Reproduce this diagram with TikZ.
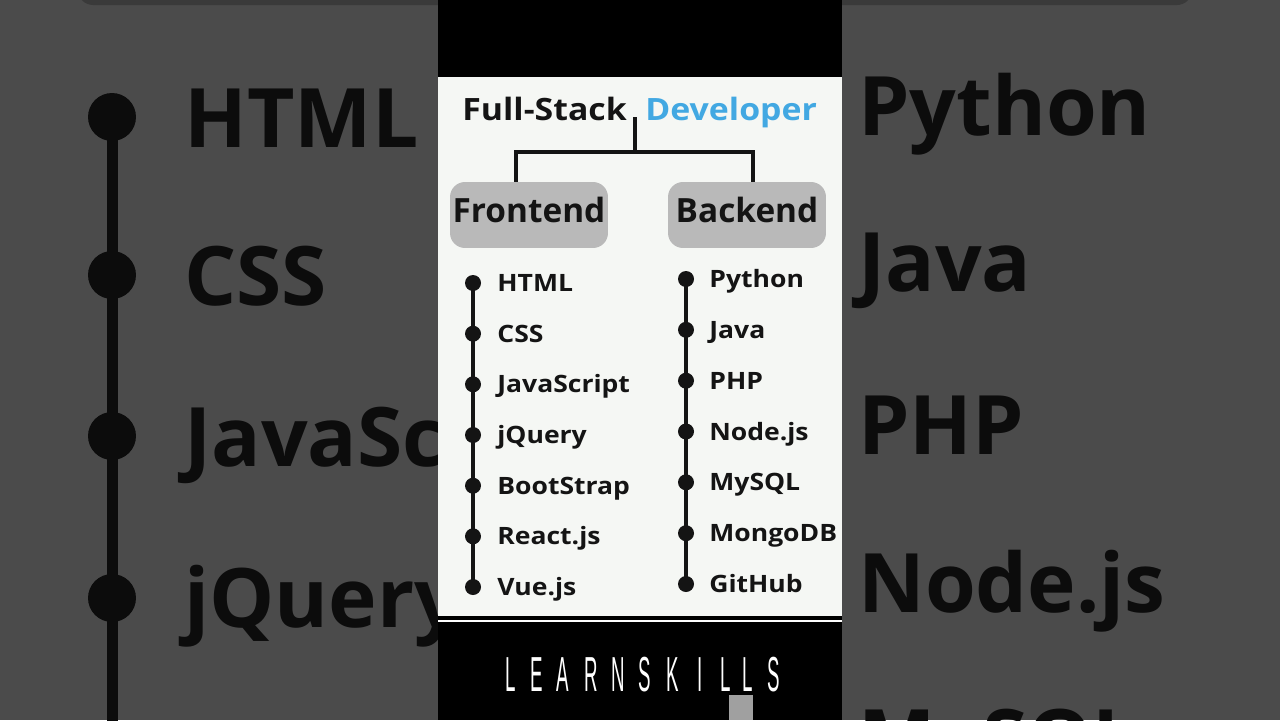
\documentclass[tikz,border=0pt]{standalone}
\usepackage{fontspec}
\setmainfont{Open Sans}
\newfontfamily\brandfont{Liberation Sans}
\usetikzlibrary{positioning}
\definecolor{bggray}{RGB}{75,75,75}
\definecolor{stripgray}{RGB}{58,58,58}
\definecolor{bgink}{RGB}{12,12,12}
\definecolor{ink}{RGB}{20,20,20}
\definecolor{paper}{RGB}{245,247,244}
\definecolor{tagfill}{RGB}{185,185,185}
\definecolor{devblue}{RGB}{66,168,226}
\definecolor{smudge}{RGB}{160,160,160}

\begin{document}
\begin{tikzpicture}[x=0.02cm,y=-0.02cm,
    entry/.style={anchor=base west,inner sep=0pt,text=ink,xscale=1.11,font=\fontsize{13.6}{16}\selectfont\bfseries},
    bul/.style={circle,fill=ink,inner sep=0pt,minimum size=0.32cm},
    rail/.style={draw=ink,line width=0.08cm},
    branch/.style={draw=ink,line width=0.08cm},
    title/.style={anchor=base west,inner sep=0pt,text=ink,xscale=1.1,font=\fontsize{17.5}{20}\selectfont\bfseries},
    tag/.style={rounded corners=0.3cm,fill=tagfill,minimum width=3.16cm,minimum height=1.32cm,inner sep=0pt,
        text=ink,text height=0.5cm,text depth=0.22cm,font=\fontsize{19}{22}\selectfont\bfseries},
    bigentry/.style={anchor=base west,inner sep=0pt,text=bgink,font=\fontsize{46.7}{50}\selectfont\bfseries},
    bigbul/.style={circle,fill=bgink,inner sep=0pt,minimum size=0.96cm},
    bigrail/.style={draw=bgink,line width=0.22cm},
    brand/.style={anchor=base,inner sep=0pt,text=white,xscale=0.38,font=\brandfont\fontsize{28}{32}\selectfont}]
    \useasboundingbox (0,0) rectangle (1280,720);
    \clip (0,0) rectangle (1280,720);

    % blurred background
    \fill[bggray] (0,0) rectangle (1280,720);
    \fill[stripgray,rounded corners=0.3cm] (78,-30) rectangle (1192,5);

    \node[bigbul] (LD1) at (112,117) {};
    \node[bigbul] (LD2) at (112,275) {};
    \node[bigbul] (LD3) at (112,436) {};
    \node[bigbul] (LD4) at (112,598) {};
    \coordinate (LD5) at (112,740);
    \draw[bigrail] (LD1.center) -- (LD5);
    \node[bigentry] (L1) at (184,147) {HTML};
    \node[bigentry] (L2) at (184,305) {CSS};
    \node[bigentry] (L3) at (184,466) {JavaSc};
    \node[bigentry] (L4) at (184,627) {jQuery};

    \node[bigentry] (R1) at (858,135) {Python};
    \node[bigentry] (R2) at (858,291) {Java};
    \node[bigentry] (R3) at (858,454) {PHP};
    \node[bigentry] (R4) at (858,612) {Node.js};
    \node[bigentry] (R5) at (858,768) {MySQL};

    % panel
    \fill[black] (438,0) rectangle (842,720);
    \fill[paper] (438,77) rectangle (842,616);
    \fill[white] (438,620) rectangle (842,622);

    \node[title] (T1) at (462,120) {Full-Stack};
    \node[title,text=devblue] (T2) at (645,120) {Developer};
    \coordinate (T0) at (635,117);
    \coordinate (TJ) at (635,152);
    \coordinate (FJ) at (516,186);
    \coordinate (BJ) at (753,186);
    \draw[branch] (T0) -- (TJ);
    \draw[branch] (FJ) |- (TJ) -| (BJ);

    \node[tag] (F) at (529,215) {Frontend};
    \node[tag] (B) at (747,215) {Backend};

    \node[bul] (FD1) at (473,283) {};
    \node[bul] (FD2) at (473,333.7) {};
    \node[bul] (FD3) at (473,384.3) {};
    \node[bul] (FD4) at (473,435) {};
    \node[bul] (FD5) at (473,485.7) {};
    \node[bul] (FD6) at (473,536.3) {};
    \node[bul] (FD7) at (473,587) {};
    \draw[rail] (FD1.center) -- (FD7.center);
    \node[entry] (F1) at (497,291.5) {HTML};
    \node[entry] (F2) at (497,342.2) {CSS};
    \node[entry] (F3) at (497,392.8) {JavaScript};
    \node[entry] (F4) at (497,443.5) {jQuery};
    \node[entry] (F5) at (497,494.2) {BootStrap};
    \node[entry] (F6) at (497,544.8) {React.js};
    \node[entry] (F7) at (497,595.5) {Vue.js};

    \node[bul] (BD1) at (686,279) {};
    \node[bul] (BD2) at (686,329.8) {};
    \node[bul] (BD3) at (686,380.7) {};
    \node[bul] (BD4) at (686,431.5) {};
    \node[bul] (BD5) at (686,482.3) {};
    \node[bul] (BD6) at (686,533.2) {};
    \node[bul] (BD7) at (686,584) {};
    \draw[rail] (BD1.center) -- (BD7.center);
    \node[entry] (B1) at (709,287.5) {Python};
    \node[entry] (B2) at (709,338.3) {Java};
    \node[entry] (B3) at (709,389.2) {PHP};
    \node[entry] (B4) at (709,440) {Node.js};
    \node[entry] (B5) at (709,490.8) {MySQL};
    \node[entry] (B6) at (709,541.7) {MongoDB};
    \node[entry] (B7) at (709,592.5) {GitHub};

    % footer
    \node[brand] (W1) at (511,691) {L};
    \node[brand] (W2) at (537,691) {E};
    \node[brand] (W3) at (563,691) {A};
    \node[brand] (W4) at (591,691) {R};
    \node[brand] (W5) at (618,691) {N};
    \node[brand] (W6) at (645,691) {S};
    \node[brand] (W7) at (673,691) {K};
    \node[brand] (W8) at (700,691) {I};
    \node[brand] (W9) at (726,691) {L};
    \node[brand] (W10) at (748,691) {L};
    \node[brand] (W11) at (774,691) {S};
    \fill[smudge] (729,695) rectangle (753,720);
\end{tikzpicture}
\end{document}
